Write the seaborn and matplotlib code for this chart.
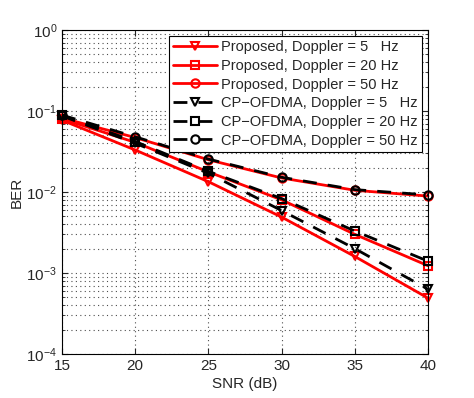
import numpy as np
import pandas as pd
import seaborn as sns
import matplotlib.pyplot as plt
from matplotlib.ticker import LogLocator, NullFormatter

# --- data ---
snr = [15, 20, 25, 30, 35, 40]
prop_5 = [0.077, 0.033, 0.0134, 0.0049, 0.0016, 0.00049]
prop_20 = [0.080, 0.041, 0.0177, 0.0080, 0.0030, 0.00123]
prop_50 = [0.082, 0.047, 0.025, 0.0149, 0.0105, 0.0089]
cp_5 = [0.087, 0.040, 0.0170, 0.0059, 0.0020, 0.00063]
cp_20 = [0.088, 0.042, 0.0180, 0.0083, 0.0033, 0.0014]
cp_50 = [0.089, 0.048, 0.0255, 0.0152, 0.0107, 0.0092]

labels = ['Proposed, Doppler = 5   Hz', 'Proposed, Doppler = 20 Hz', 'Proposed, Doppler = 50 Hz',
          'CP\u2212OFDMA, Doppler = 5   Hz', 'CP\u2212OFDMA, Doppler = 20 Hz', 'CP\u2212OFDMA, Doppler = 50 Hz']
series = [prop_5, prop_20, prop_50, cp_5, cp_20, cp_50]
colors = ['red'] * 3 + ['black'] * 3
markers = ['v', 's', 'o'] * 2
styles = ['-'] * 3 + ['--'] * 3

df = pd.DataFrame({
    'SNR': np.tile(snr, len(series)),
    'BER': np.concatenate(series),
    'curve': np.repeat(labels, len(snr)),
})

sns.set_style('ticks')
plt.rcParams['font.family'] = ['Liberation Sans', 'DejaVu Sans']
plt.rcParams['mathtext.fontset'] = 'custom'
plt.rcParams['mathtext.rm'] = 'Liberation Sans'

fig = plt.figure(figsize=(4.74, 3.98), dpi=100)
ax = fig.add_axes([62 / 474, 1 - 354 / 398, 366 / 474, 324 / 398])

for lab, c, m, ls in zip(labels, colors, markers, styles):
    sub = df[df['curve'] == lab]
    sns.lineplot(data=sub, x='SNR', y='BER', ax=ax, color=c, marker=m, linestyle=ls,
                 linewidth=2, markersize=6, markerfacecolor='none', markeredgecolor=c,
                 markeredgewidth=1.5, label=lab, clip_on=False)
# dashed lines need the matplotlib dash pattern
for line, ls in zip(ax.get_lines(), styles):
    if ls == '--':
        line.set_dashes([5, 4])

ax.set_yscale('log')
ax.set_xlim(15, 40)
ax.set_ylim(1e-4, 1)
ax.set_xticks([15, 20, 25, 30, 35, 40])
ax.yaxis.set_major_locator(LogLocator(base=10, numticks=10))
ax.yaxis.set_minor_locator(LogLocator(base=10, subs=np.arange(2, 10), numticks=10))
ax.yaxis.set_minor_formatter(NullFormatter())

ax.grid(True, which='major', axis='both', linestyle=(0, (1, 3)), color='0.3', linewidth=0.8)
ax.grid(True, which='minor', axis='y', linestyle=(0, (1, 3)), color='0.3', linewidth=0.8)
ax.tick_params(which='both', direction='in', labelsize=11, top=True, right=True)
ax.tick_params(which='major', length=4)
ax.tick_params(which='minor', length=2)
for s in ax.spines.values():
    s.set_linewidth(0.8)
    s.set_color('black')

ax.set_xlabel('SNR (dB)', fontsize=11, labelpad=3)
ax.set_ylabel('BER', fontsize=11, labelpad=2)

leg = ax.legend(loc='upper right', fontsize=10.5, handlelength=3.0, borderpad=0.3,
                labelspacing=0.32, handletextpad=0.3, borderaxespad=0.4,
                fancybox=False, framealpha=1, edgecolor='black')
leg.get_frame().set_linewidth(0.8)

fig.savefig('out.png', dpi=100)
